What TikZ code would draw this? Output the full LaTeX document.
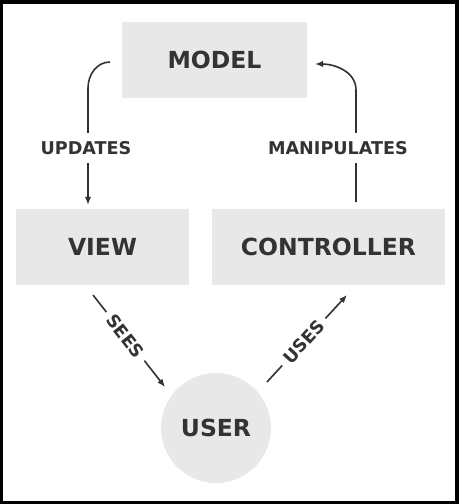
\documentclass[tikz,border=0pt]{standalone}
\usepackage{fontspec}
\setmainfont{DejaVu Sans}
\usetikzlibrary{arrows.meta}
\definecolor{boxgray}{HTML}{E8E8E8}
\definecolor{ink}{HTML}{333333}
\begin{document}
\begin{tikzpicture}[x=1pt,y=-1pt,
  boxnode/.style={rectangle, fill=boxgray, inner sep=0pt,
    font=\fontsize{23.5}{27}\selectfont\bfseries, text=ink},
  usernode/.style={circle, fill=boxgray, minimum size=110pt, inner sep=0pt,
    font=\fontsize{23.5}{27}\selectfont\bfseries, text=ink},
  conn/.style={draw=ink, line width=1.6pt, -{Latex[length=8pt,width=6.5pt]}},
  lbl/.style={fill=white, font=\fontsize{17.6}{20}\selectfont\bfseries, text=ink,
    text height=12.8pt, text depth=0pt, inner xsep=6pt, inner ysep=9pt}
]
\fill[black] (0,0) rectangle (459,504);
\fill[white] (3,4) rectangle (455,501);
\useasboundingbox (0,0) rectangle (459,504);

% nodes
\node[boxnode, minimum width=185pt, minimum height=76pt] (model) at (214.5,60) {MODEL};
\node[boxnode, minimum width=173pt, minimum height=76pt] (view) at (102.5,247) {VIEW};
\node[boxnode, minimum width=233pt, minimum height=76pt] (controller) at (328.5,247) {CONTROLLER};
\node[usernode] (user) at (216,428) {USER};

% free ends
\coordinate (u0) at (110,62);
\coordinate (u1) at (88,88);
\coordinate (m0) at (356,202);
\coordinate (m1) at (356,90);
\coordinate (m2) at (315,64);
\coordinate (s0) at (93,295);
\coordinate (s1) at (165,387);
\coordinate (c0) at (267,382);
\coordinate (c1) at (347,295);

% connectors
\draw[conn, shorten >=4pt] (u0) to[out=180,in=90] (u1) -- (view.north -| u1);
\draw[conn] (m0) -- (m1) to[out=90,in=0] (m2);
\draw[conn] (s0) -- node[lbl, sloped, pos=0.45] (seeslbl) {SEES} (s1);
\draw[conn] (c0) -- node[lbl, sloped, pos=0.46] (useslbl) {USES} (c1);

% labels on vertical connectors
\node[lbl] (updlbl) at (86,148) {UPDATES};
\node[lbl] (manlbl) at (338,148) {MANIPULATES};
\end{tikzpicture}
\end{document}
